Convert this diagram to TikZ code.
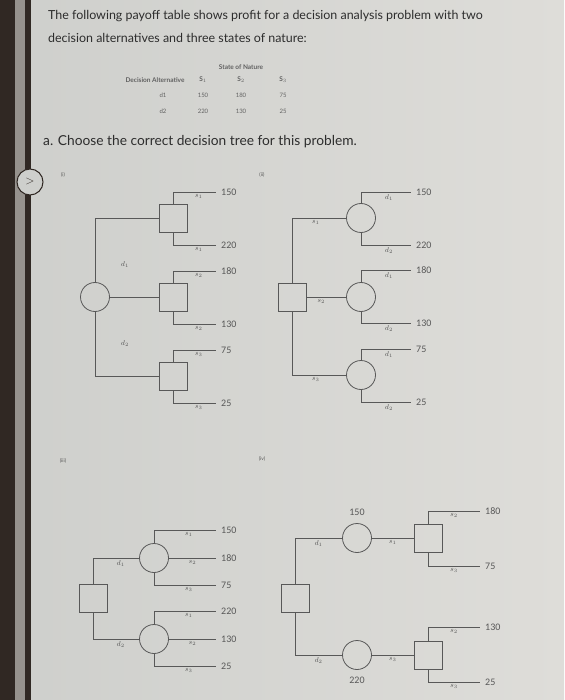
\documentclass[tikz,border=0pt]{standalone}
\usepackage{fontspec}
\setmainfont{Lato}
\newfontfamily\treefont{Carlito}
\usetikzlibrary{positioning}
\definecolor{screen}{RGB}{206,207,204}
\definecolor{screenlt}{RGB}{222,221,217}
\definecolor{ink}{RGB}{45,45,45}
\definecolor{treeink}{RGB}{88,88,88}
\definecolor{bezel}{RGB}{48,40,35}
\definecolor{bezelmid}{RGB}{150,146,141}

\tikzset{
  chance/.style={circle,draw=treeink,line width=0.8pt,minimum size=29pt,inner sep=0pt},
  decision/.style={rectangle,draw=treeink,line width=0.8pt,minimum size=28pt,inner sep=0pt},
  payoff/.style={anchor=west,inner xsep=5pt,inner ysep=0pt,text=treeink,
    font=\treefont\fontsize{10}{10}\selectfont},
  val/.style={inner sep=1pt,text=treeink,font=\treefont\fontsize{10}{10}\selectfont},
  branch/.style={inner sep=2pt,text=treeink,font=\fontsize{7}{7}\selectfont},
  edge/.style={draw=treeink,line width=0.8pt},
  tag/.style={inner sep=0pt,text=treeink,font=\fontsize{5}{5}\selectfont},
  tab/.style={inner sep=0pt,text=ink!75,font=\fontsize{6}{6}\selectfont},
  tabh/.style={tab,font=\bfseries\fontsize{6.5}{7}\selectfont},
  line/.style={anchor=west,inner sep=0pt,text=ink,font=\fontsize{12.45}{14}\selectfont}
}

\begin{document}
\begin{tikzpicture}[x=1pt,y=-1pt]
\useasboundingbox (0,0) rectangle (564,700);
% screen and bezel
\shade[left color=screen,right color=screenlt] (0,0) rectangle (564,700);
\fill[bezel] (0,0) rectangle (15,700);
\fill[bezelmid] (15,0) rectangle (25,700);
\fill[bezel] (25,0) rectangle (31,700);

% question text
\node[line] (q1) at (48,16) {The following payoff table shows profit for a decision analysis problem with two};
\node[line] (q2) at (48,38) {decision alternatives and three states of nature:};

% payoff table
\node[tabh] (son) at (241,67) {State of Nature};
\node[tabh] (da) at (155,80) {Decision Alternative};
\node[tabh] (hs1) at (203,80) {S$_1$};
\node[tabh] (hs2) at (241,80) {S$_2$};
\node[tabh] (hs3) at (283,80) {S$_3$};
\node[tab] (rd1) at (163,95) {d1};
\node[tab] (rd2) at (163,111) {d2};
\node[tab] at (203,95) {150};
\node[tab] at (241,95) {180};
\node[tab] at (283,95) {75};
\node[tab] at (203,111) {220};
\node[tab] at (241,111) {130};
\node[tab] at (283,111) {25};

\node[line,font=\fontsize{13.75}{15}\selectfont] (qa) at (43,142) {a. Choose the correct decision tree for this problem.};

% radio button
\node[circle,draw=bezel,fill=screen,line width=1pt,minimum size=26pt,inner sep=0pt,
  font=\fontsize{13}{13}\selectfont,text=bezel] (pick) at (30,182) {$>$};

\node[tag] (ti) at (63,175) {(i)};
\node[tag] (tii) at (262,175) {(ii)};
\node[tag] (tiii) at (63,461) {(iii)};
\node[tag] (tiv) at (262,459) {(iv)};

% tree (i)
\node[chance] (r1) at (95,297) {};
\node[decision] (r1a) at (173,218) {};
\node[decision] (r1b) at (173,297) {};
\node[decision] (r1c) at (173,376) {};
\draw[edge] (r1.north) |- (r1a.west);
\draw[edge] (r1.east) -- (r1b.west);
\draw[edge] (r1.south) |- (r1c.west);
\node[branch] (l1d1) at (125,265) {$d_1$};
\node[branch] (l1d2) at (125,344) {$d_2$};
\foreach \b/\t/\hi/\lo/\s in {r1a/192/150/220/1,r1b/271/180/130/2,r1c/350/75/25/3}{
  \node[payoff] (\b hi) at (216,\t) {\hi};
  \node[payoff] (\b lo) at (216,\t+53) {\lo};
  \draw[edge] (\b.north) |- node[branch,pos=0.8,below]{$s_\s$} (\b hi.west);
  \draw[edge] (\b.south) |- node[branch,pos=0.8,below]{$s_\s$} (\b lo.west);
}

% tree (ii)
\node[decision] (r2) at (292,297) {};
\node[chance] (r2a) at (361,218) {};
\node[chance] (r2b) at (361,297) {};
\node[chance] (r2c) at (361,375) {};
\draw[edge] (r2.north) |- node[branch,pos=0.72,below]{$s_1$} (r2a.west);
\draw[edge] (r2.east) -- node[branch,pos=0.37,below]{$s_2$} (r2b.west);
\draw[edge] (r2.south) |- node[branch,pos=0.72,below]{$s_3$} (r2c.west);
\foreach \b/\t/\hi/\lo in {r2a/192/150/220,r2b/270/180/130,r2c/349/75/25}{
  \node[payoff] (\b hi) at (411,\t) {\hi};
  \node[payoff] (\b lo) at (411,\t+53) {\lo};
  \draw[edge] (\b.north) |- node[branch,pos=0.78,below]{$d_1$} (\b hi.west);
  \draw[edge] (\b.south) |- node[branch,pos=0.78,below]{$d_2$} (\b lo.west);
}

% tree (iii)
\node[decision] (r3) at (93,598) {};
\node[chance] (r3a) at (154,558) {};
\node[chance] (r3b) at (154,639) {};
\draw[edge] (r3.north) |- node[branch,pos=0.8,below]{$d_1$} (r3a.west);
\draw[edge] (r3.south) |- node[branch,pos=0.8,below]{$d_2$} (r3b.west);
\foreach \b/\m/\hi/\md/\lo in {r3a/558/150/180/75,r3b/639/220/130/25}{
  \node[payoff] (\b hi) at (216,\m-28) {\hi};
  \node[payoff] (\b md) at (216,\m) {\md};
  \node[payoff] (\b lo) at (216,\m+27) {\lo};
  \draw[edge] (\b.north) |- node[branch,pos=0.78,below]{$s_1$} (\b hi.west);
  \draw[edge] (\b.east) -- node[branch,pos=0.5,below]{$s_2$} (\b md.west);
  \draw[edge] (\b.south) |- node[branch,pos=0.78,below]{$s_3$} (\b lo.west);
}

% tree (iv)
\node[decision] (r4) at (295,598) {};
\node[chance] (r4a) at (357,538) {};
\node[chance] (r4b) at (357,655) {};
\node[val,above=6pt of r4a] (v4a) {150};
\node[val,below=6pt of r4b] (v4b) {220};
\node[decision] (r4c) at (428,538) {};
\node[decision] (r4d) at (428,655) {};
\draw[edge] (r4.north) |- node[branch,pos=0.75,below]{$d_1$} (r4a.west);
\draw[edge] (r4.south) |- node[branch,pos=0.75,below]{$d_2$} (r4b.west);
\draw[edge] (r4a.east) -- node[branch,pos=0.5,below]{$s_1$} (r4c.west);
\draw[edge] (r4b.east) -- node[branch,pos=0.5,below]{$s_3$} (r4d.west);
\foreach \b/\t/\hi/\lo in {r4c/511/180/75,r4d/627/130/25}{
  \node[payoff] (\b hi) at (480,\t) {\hi};
  \node[payoff] (\b lo) at (480,\t+55) {\lo};
  \draw[edge] (\b.north) |- node[branch,pos=0.75,below]{$s_2$} (\b hi.west);
  \draw[edge] (\b.south) |- node[branch,pos=0.75,below]{$s_3$} (\b lo.west);
}
\end{tikzpicture}
\end{document}
